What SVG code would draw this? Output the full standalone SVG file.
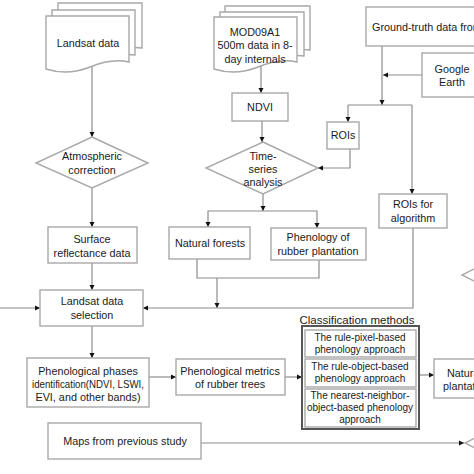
<svg xmlns="http://www.w3.org/2000/svg" width="474" height="474" viewBox="0 0 474 474">
<defs>
<marker id="ah" markerUnits="userSpaceOnUse" markerWidth="6" markerHeight="6" refX="5" refY="3" orient="auto">
<path d="M0,0.5 L5,3 L0,5.5 z" fill="#111"/>
</marker>
<style>
.bx{fill:#fff;stroke:#a8a8a8;stroke-width:1.4}
.dk{fill:#fff;stroke:#555;stroke-width:2}
.t{font-family:"Liberation Sans",Arial,sans-serif;font-size:10.8px;fill:#1a1a1a;text-anchor:middle}
.s{font-size:10px}
.c{fill:none;stroke:#8c8c8c;stroke-width:1.2}
.a{marker-end:url(#ah)}
</style>
</defs>
<rect width="474" height="474" fill="#fff"/>

<g id="connectors">
<path class="c a" d="M92,66 V137"/>
<path class="c a" d="M92,188 V227"/>
<path class="c a" d="M92,263 V290"/>
<path class="c a" d="M0,308 H40"/>
<path class="c a" d="M92,326 V358"/>
<path class="c a" d="M149,377 H176"/>
<path class="c a" d="M285,377 H302"/>
<path class="c a" d="M419,375 H434"/>
<path class="c a" d="M201,443 H464"/>
<path class="c a" d="M261,65 V93"/>
<path class="c a" d="M262,121 V142"/>
<path class="c a" d="M263,194 V211"/>
<path class="c a" d="M263,211 H208 V227"/>
<path class="c a" d="M263,211 H317 V228"/>
<path class="c" d="M197,259 V278 H319 V260"/>
<path class="c a" d="M217,278 V308"/>
<path class="c a" d="M382,46 V105"/>
<path class="c a" d="M422,75 H383"/>
<path class="c" d="M348,105 H412"/>
<path class="c a" d="M348,105 V122"/>
<path class="c a" d="M412,105 V194"/>
<path class="c a" d="M350,149 V168 H318"/>
<path class="c a" d="M413,228 V308 H143"/>
</g>

<g id="landsat-data">
<path class="bx" d="M58,3 H142 V48 Q128,46 110,52 T58,52 Z"/>
<path class="bx" d="M52,10 H135 V55 Q121,53 103,59 T52,59 Z"/>
<path class="bx" d="M46,16 H129 V62 Q112,58 90,67 T46,69 Z"/>
<text class="t" x="88" y="47">Landsat data</text>
</g>

<g id="atmospheric-correction">
<path class="bx" d="M92,137 L148,163 L92,188 L36,163 Z"/>
<text class="t" x="92" y="160">Atmospheric</text>
<text class="t" x="92" y="174">correction</text>
</g>

<g id="surface-reflectance">
<rect class="bx" x="48" y="227" width="89" height="36"/>
<text class="t" x="92" y="243">Surface</text>
<text class="t" x="92" y="257">reflectance data</text>
</g>

<g id="landsat-selection">
<rect class="bx" x="40" y="290" width="103" height="36"/>
<text class="t" x="92" y="305">Landsat data</text>
<text class="t" x="92" y="319">selection</text>
</g>

<g id="phenological-phases">
<rect class="bx" x="27" y="358" width="122" height="49"/>
<text class="t" x="88" y="375">Phenological phases</text>
<text class="t" x="88" y="388" textLength="112" lengthAdjust="spacingAndGlyphs">identification(NDVI, LSWI,</text>
<text class="t" x="88" y="401">EVI, and other bands)</text>
</g>

<g id="phenological-metrics">
<rect class="bx" x="176" y="359" width="109" height="36"/>
<text class="t" x="230" y="375">Phenological metrics</text>
<text class="t" x="230" y="388">of rubber trees</text>
</g>

<g id="classification-methods">
<text class="t" x="357" y="324" style="font-size:11.5px">Classification methods</text>
<rect class="dk" x="302" y="326" width="117" height="103"/>
<rect class="bx" x="305" y="330" width="111" height="27"/>
<text class="t s" x="360" y="341">The rule-pixel-based</text>
<text class="t s" x="360" y="353">phenology approach</text>
<rect class="bx" x="305" y="359" width="111" height="28"/>
<text class="t s" x="360" y="370">The rule-object-based</text>
<text class="t s" x="360" y="382">phenology approach</text>
<rect class="bx" x="305" y="389" width="111" height="38"/>
<text class="t s" x="360" y="399">The nearest-neighbor-</text>
<text class="t s" x="360" y="411">object-based phenology</text>
<text class="t s" x="360" y="423">approach</text>
</g>

<g id="natural-plantation">
<rect class="bx" x="434" y="359" width="50" height="39"/>
<text class="t" x="447" y="377" style="text-anchor:start">Natural</text>
<text class="t" x="443" y="390" style="text-anchor:start">plantation</text>
</g>

<g id="maps-previous">
<rect class="bx" x="48" y="423" width="153" height="36"/>
<text class="t" x="125" y="445">Maps from previous study</text>
</g>

<g id="mod09a1">
<path class="bx" d="M225,6 H310 V50 Q296,48 278,54 T225,54 Z"/>
<path class="bx" d="M220,12 H304 V56 Q290,54 272,60 T220,60 Z"/>
<path class="bx" d="M214,17 H297 V62 Q280,58 258,67 T214,69 Z"/>
<text class="t" x="255" y="36">MOD09A1</text>
<text class="t" x="255" y="49">500m data in 8-</text>
<text class="t" x="255" y="63">day internals</text>
</g>

<g id="ndvi">
<rect class="bx" x="232" y="93" width="56" height="28"/>
<text class="t" x="260" y="111">NDVI</text>
</g>

<g id="time-series">
<path class="bx" d="M263,142 L318,168 L263,194 L206,168 Z"/>
<text class="t" x="263" y="160">Time-</text>
<text class="t" x="263" y="173">series</text>
<text class="t" x="263" y="186">analysis</text>
</g>

<g id="natural-forests">
<rect class="bx" x="169" y="227" width="81" height="32"/>
<text class="t" x="210" y="247">Natural forests</text>
</g>

<g id="phenology-rubber">
<rect class="bx" x="271" y="228" width="95" height="32"/>
<text class="t" x="318" y="241">Phenology of</text>
<text class="t" x="318" y="255">rubber plantation</text>
</g>

<g id="ground-truth">
<rect class="bx" x="366" y="7" width="120" height="39"/>
<text class="t" x="372" y="31" style="text-anchor:start">Ground-truth data from</text>
</g>

<g id="google-earth">
<rect class="bx" x="422" y="53" width="64" height="44"/>
<text class="t" x="452" y="73">Google</text>
<text class="t" x="452" y="86">Earth</text>
</g>

<g id="rois">
<rect class="bx" x="327" y="122" width="32" height="27"/>
<text class="t" x="343" y="139">ROIs</text>
</g>

<g id="rois-algorithm">
<rect class="bx" x="379" y="194" width="68" height="34"/>
<text class="t" x="413" y="208">ROIs for</text>
<text class="t" x="413" y="222">algorithm</text>
</g>

<g id="diamond-right-1">
<path class="bx" d="M486,263 L462,275 L486,287"/>
</g>
<g id="diamond-right-2">
<path class="bx" d="M489,431 L465,443 L489,455"/>
</g>
</svg>
